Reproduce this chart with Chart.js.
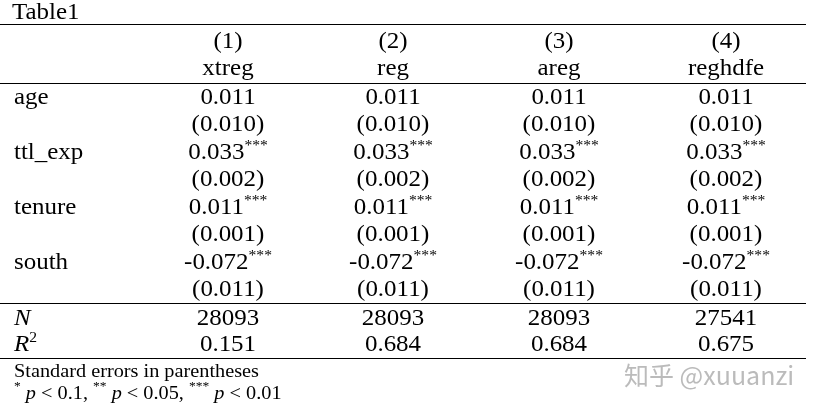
<!DOCTYPE html>
<html><head><meta charset="utf-8">
<script src="https://cdn.jsdelivr.net/npm/chart.js@4/dist/chart.umd.min.js"></script>
<style>html,body{margin:0;padding:0;background:#fff}</style>
</head><body>
<canvas id="c" width="814" height="407"></canvas>
<script>
const title = "Table1";
const colNums = ["(1)","(2)","(3)","(4)"];
const colNames = ["xtreg","reg","areg","reghdfe"];
const varNames = ["age","ttl_exp","tenure","south"];
const coefs = [
  ["0.011","0.011","0.011","0.011"],
  ["0.033","0.033","0.033","0.033"],
  ["0.011","0.011","0.011","0.011"],
  ["-0.072","-0.072","-0.072","-0.072"]
];
const stars = [
  ["","","",""],
  ["***","***","***","***"],
  ["***","***","***","***"],
  ["***","***","***","***"]
];
const ses = [
  ["(0.010)","(0.010)","(0.010)","(0.010)"],
  ["(0.002)","(0.002)","(0.002)","(0.002)"],
  ["(0.001)","(0.001)","(0.001)","(0.001)"],
  ["(0.011)","(0.011)","(0.011)","(0.011)"]
];
const nObs = ["28093","28093","28093","27541"];
const r2 = ["0.151","0.684","0.684","0.675"];

// layout (pixel-space scale values)
const colX = [228, 393, 559, 726];
const rowY = {title:13, num:42, name:69, vars:[98,153,208,263], n:319, r2:345, note1:372, note2:394};
const lineY = [24, 83, 303, 358];
const SX = 1.04;

const F = "'Liberation Serif','Times New Roman',serif";
const points = [];
colX.forEach(x => { points.push({x, y: rowY.num}); });

function drawRich(ctx, parts, x, y, align){
  let w = 0;
  parts.forEach(p => { ctx.font = (p.italic?'italic ':'')+p.size+'px '+F; p.w = ctx.measureText(p.t).width*SX; w += p.w; });
  let cx = align==='center' ? x - w/2 : x;
  parts.forEach(p => {
    ctx.font = (p.italic?'italic ':'')+p.size+'px '+F;
    ctx.textAlign = 'left'; ctx.textBaseline = 'middle';
    ctx.save(); ctx.translate(cx, p.sup ? y - 7 : y); ctx.scale(SX,1);
    ctx.fillText(p.t, 0, 0); ctx.restore();
    cx += p.w;
  });
}

const tablePlugin = {
  id:'table',
  afterDraw(chart){
    const ctx = chart.ctx, xs = chart.scales.x, ys = chart.scales.y;
    const X = v => xs.getPixelForValue(v), Y = v => ys.getPixelForValue(v);
    ctx.save();
    ctx.fillStyle = '#000';
    ctx.strokeStyle = '#000'; ctx.lineWidth = 1;
    lineY.forEach(l => { ctx.beginPath(); ctx.moveTo(X(0), Y(l)+0.5); ctx.lineTo(X(806), Y(l)+0.5); ctx.stroke(); });
    const S = 24;
    drawRich(ctx, [{t:title,size:S}], X(12), Y(rowY.title), 'left');
    colX.forEach((cx,i) => {
      drawRich(ctx, [{t:colNums[i],size:S}], X(cx), Y(rowY.num), 'center');
      drawRich(ctx, [{t:colNames[i],size:S}], X(cx), Y(rowY.name), 'center');
    });
    varNames.forEach((v,r) => {
      const y = rowY.vars[r];
      drawRich(ctx, [{t:v,size:S}], X(14), Y(y), 'left');
      colX.forEach((cx,i) => {
        const parts = [{t:coefs[r][i],size:S}];
        if (stars[r][i]) parts.push({t:stars[r][i],size:15,sup:true});
        drawRich(ctx, parts, X(cx), Y(y), 'center');
        drawRich(ctx, [{t:ses[r][i],size:S}], X(cx), Y(y+27), 'center');
      });
    });
    drawRich(ctx, [{t:'N',size:S,italic:true}], X(14), Y(rowY.n), 'left');
    drawRich(ctx, [{t:'R',size:S,italic:true},{t:'2',size:15,sup:true}], X(14), Y(rowY.r2), 'left');
    colX.forEach((cx,i) => {
      drawRich(ctx, [{t:nObs[i],size:S}], X(cx), Y(rowY.n), 'center');
      drawRich(ctx, [{t:r2[i],size:S}], X(cx), Y(rowY.r2), 'center');
    });
    const s2 = 19.5;
    drawRich(ctx, [{t:'Standard errors in parentheses',size:s2}], X(14), Y(rowY.note1), 'left');
    drawRich(ctx, [{t:'*',size:13,sup:true},{t:' p',size:s2,italic:true},{t:' < 0.1, ',size:s2},
      {t:'**',size:13,sup:true},{t:' p',size:s2,italic:true},{t:' < 0.05, ',size:s2},
      {t:'***',size:13,sup:true},{t:' p',size:s2,italic:true},{t:' < 0.01',size:s2}], X(14), Y(rowY.note2), 'left');
    ctx.fillStyle = 'rgba(170,170,170,0.8)';
    ctx.font = "25px 'Noto Sans CJK SC','Noto Sans',sans-serif";
    ctx.textAlign='left'; ctx.textBaseline='middle';
    ctx.fillText('知乎 @xuuanzi', X(624), Y(375));
    ctx.restore();
  }
};

new Chart(document.getElementById('c'), {
  type:'scatter',
  data:{datasets:[{data:points, pointRadius:0, showLine:false}]},
  options:{
    responsive:false, animation:false,
    layout:{padding:0},
    plugins:{legend:{display:false}, tooltip:{enabled:false}},
    scales:{
      x:{type:'linear', min:0, max:814, display:false},
      y:{type:'linear', min:0, max:407, reverse:true, display:false}
    }
  },
  plugins:[tablePlugin]
});
</script>
</body></html>
